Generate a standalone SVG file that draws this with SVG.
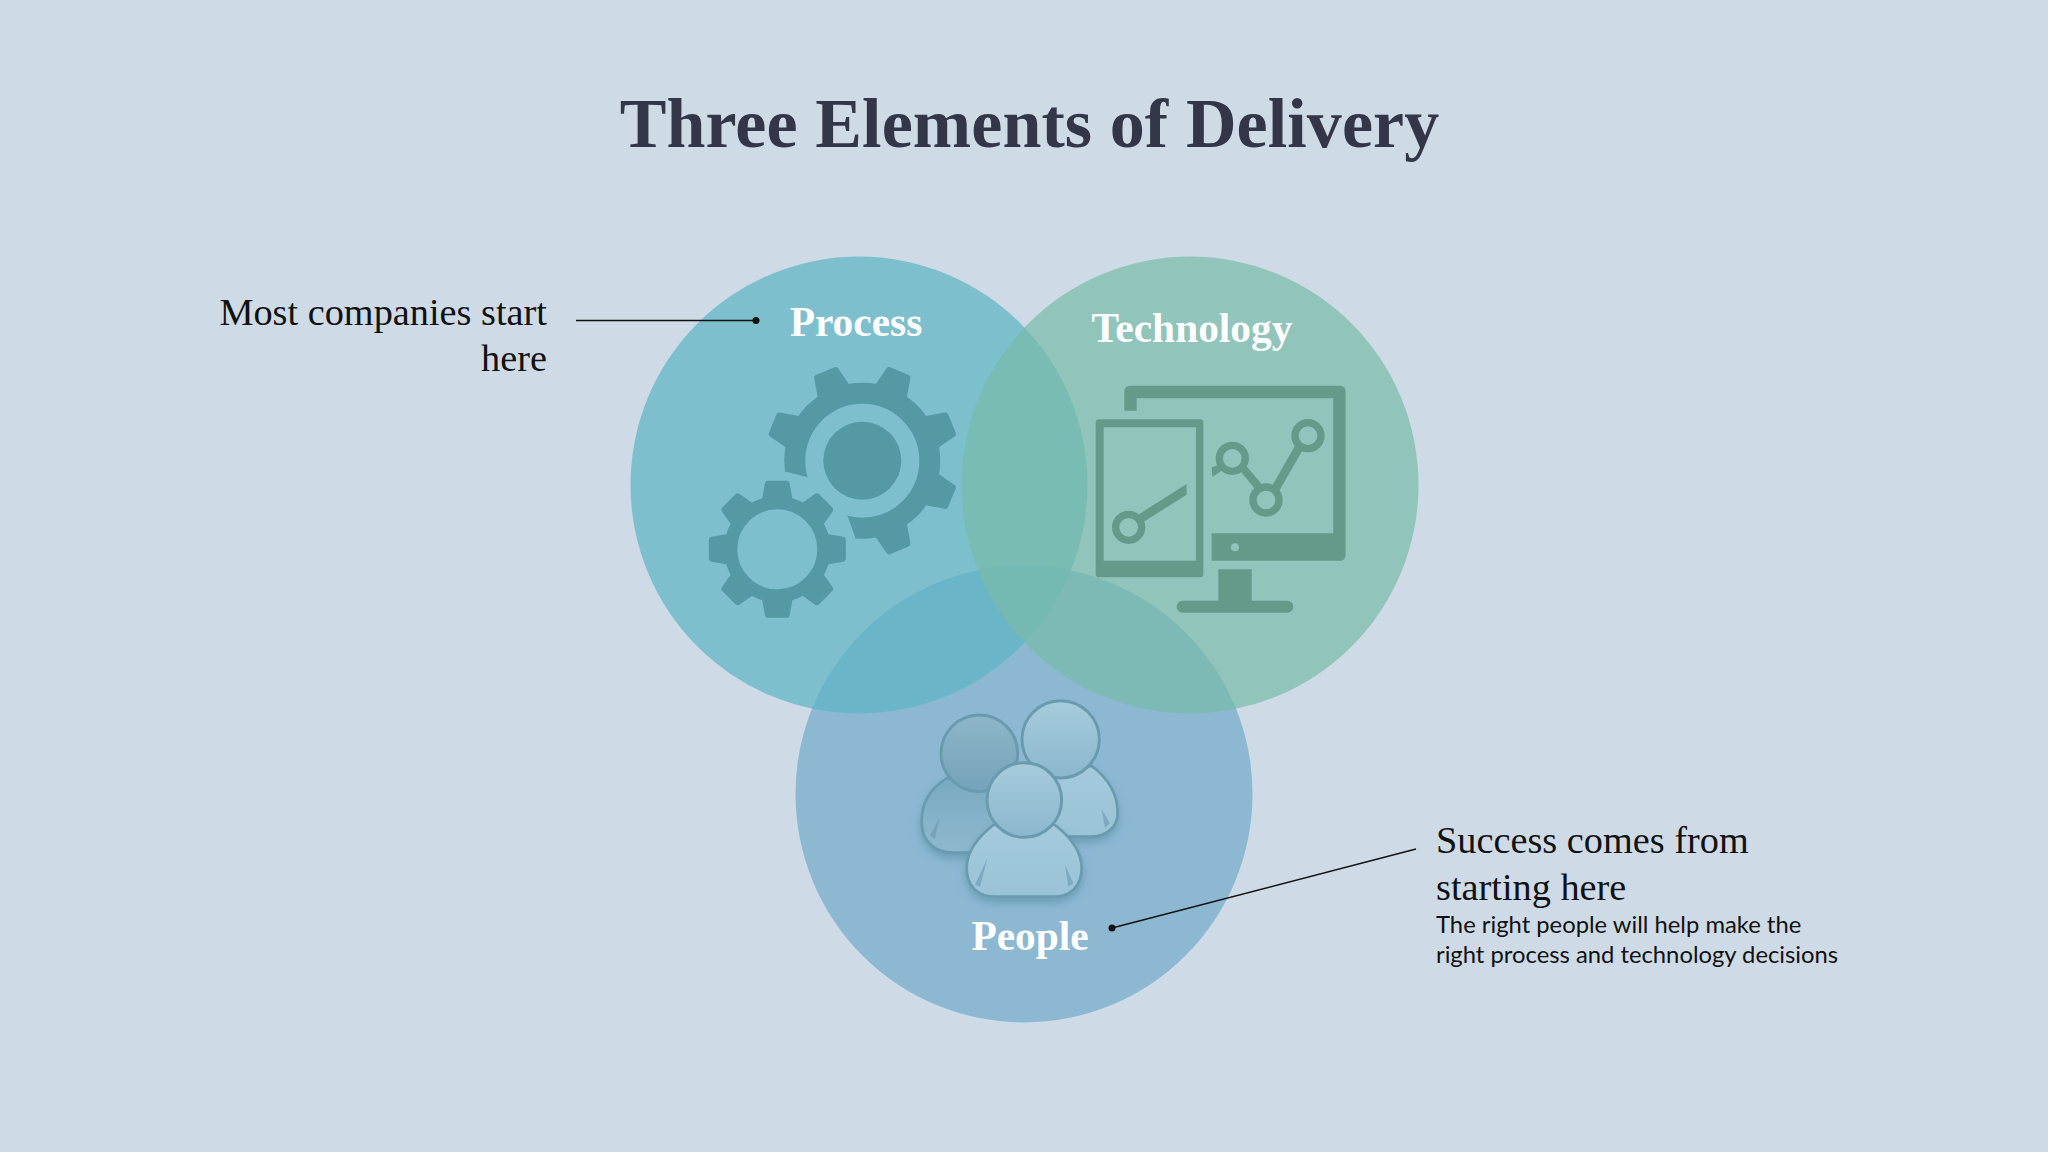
<svg xmlns="http://www.w3.org/2000/svg" xmlns:xlink="http://www.w3.org/1999/xlink" width="2048" height="1152" viewBox="0 0 2048 1152">
<style>
.serif{font-family:"Liberation Serif","Times New Roman",serif}
.side{font-size:38.3px;fill:#111}
.lab{font-size:41.4px;font-weight:bold;fill:#fff;text-anchor:middle}
.sub{font-family:Lato,"Noto Sans",sans-serif;font-size:23.8px;fill:#111}
.gear{fill:#5499A4}
.tech{fill:#65998A}
.ring{fill:none;stroke:#65998A;stroke-width:22}
.conn{stroke:#111;stroke-width:1.5;fill:none}
.pbody{stroke:#6A9AAE;stroke-width:8}
.phead{stroke:#6A9AAE;stroke-width:9}
</style>
<defs>
<path id="t1" d="M-15,-70L-10,-94L10,-94L15,-70Z" stroke="#5499A4" stroke-width="6" stroke-linejoin="round"/>
<path id="t2" d="M-12,-48L-9,-65L9,-65L12,-48Z" stroke="#5499A4" stroke-width="7" stroke-linejoin="round"/>
<mask id="cut" maskUnits="userSpaceOnUse" x="700" y="340" width="300" height="300">
<rect x="700" y="340" width="300" height="300" fill="#fff"/>
<polygon points="740,466 787,472 807,477 848,517 855,537 862,580 740,580" fill="#000"/>
</mask>
<linearGradient id="g1" x1="0" y1="0" x2="0" y2="1"><stop offset="0" stop-color="#A7CBDC"/><stop offset="1" stop-color="#8AB7CD"/></linearGradient>
<linearGradient id="g2" x1="0" y1="0" x2="0" y2="1"><stop offset="0" stop-color="#8DB6C9"/><stop offset="1" stop-color="#74A3B9"/></linearGradient>
<linearGradient id="b1" x1="0" y1="0" x2="0" y2="1"><stop offset="0" stop-color="#A4CADC"/><stop offset="1" stop-color="#99C3D7"/></linearGradient>
<linearGradient id="b2" x1="0" y1="0" x2="0" y2="1"><stop offset="0" stop-color="#7AAAC0"/><stop offset="1" stop-color="#8DB9CE"/></linearGradient>
<filter id="sh" x="-20%" y="-20%" width="140%" height="140%"><feDropShadow dx="0" dy="14" stdDeviation="12" flood-color="#5F91A8" flood-opacity=".7"/></filter>
</defs>
<rect id="background" width="2048" height="1152" fill="#CEDBE7"/>
<text id="title" class="serif" x="1029.5" y="147" font-size="70" font-weight="bold" fill="#333647" text-anchor="middle" letter-spacing=".1">Three Elements of Delivery</text>
<g id="people-circle"><circle cx="1024" cy="794" r="228.5" fill="#71AAC9" fill-opacity=".7"/></g>
<g id="process-circle"><circle cx="859" cy="485" r="228.5" fill="#5CB3C3" fill-opacity=".7"/></g>
<g id="technology-circle"><circle cx="1190" cy="485" r="228.5" fill="#77BAA8" fill-opacity=".7"/></g>
<g id="process-icon">
<g mask="url(#cut)" class="gear">
<circle cx="862.3" cy="460.7" r="67.5" fill="none" stroke="#5499A4" stroke-width="21"/>
<g transform="translate(862.3 460.7)">
<use xlink:href="#t1" href="#t1" transform="rotate(22.5)"/><use xlink:href="#t1" href="#t1" transform="rotate(67.5)"/><use xlink:href="#t1" href="#t1" transform="rotate(112.5)"/><use xlink:href="#t1" href="#t1" transform="rotate(157.5)"/><use xlink:href="#t1" href="#t1" transform="rotate(202.5)"/><use xlink:href="#t1" href="#t1" transform="rotate(247.5)"/><use xlink:href="#t1" href="#t1" transform="rotate(292.5)"/><use xlink:href="#t1" href="#t1" transform="rotate(337.5)"/>
</g>
</g>
<circle class="gear" cx="862.3" cy="460.7" r="39"/>
<g class="gear" transform="translate(777.3 549.3)">
<circle r="46.5" fill="none" stroke="#5499A4" stroke-width="13"/>
<use xlink:href="#t2" href="#t2"/><use xlink:href="#t2" href="#t2" transform="rotate(45)"/><use xlink:href="#t2" href="#t2" transform="rotate(90)"/><use xlink:href="#t2" href="#t2" transform="rotate(135)"/><use xlink:href="#t2" href="#t2" transform="rotate(180)"/><use xlink:href="#t2" href="#t2" transform="rotate(225)"/><use xlink:href="#t2" href="#t2" transform="rotate(270)"/><use xlink:href="#t2" href="#t2" transform="rotate(315)"/>
</g>
</g>
<g id="technology-icon" transform="translate(1070 370) scale(.3333)">
<path class="tech" d="M163,122V65Q163,47 181,47H809Q827,47 827,65V554Q827,572 809,572H425V490H790V85H200V122Z"/>
<circle cx="495" cy="532" r="12" fill="#91C4BB"/>
<rect class="tech" x="445" y="598" width="100" height="100"/>
<rect class="tech" x="320" y="692" width="350" height="36" rx="18"/>
<path class="tech" fill-rule="evenodd" d="M87,148H390Q400,148 400,158V612Q400,622 390,622H87Q77,622 77,612V158Q77,148 87,148ZM101,172V572H378V172Z"/>
<circle class="ring" cx="176" cy="472" r="39"/>
<path class="tech" d="M208,432L350,342V374L220,456Z"/>
<circle class="ring" cx="487" cy="265" r="39"/>
<circle class="ring" cx="588" cy="390" r="39"/>
<circle class="ring" cx="714" cy="197" r="39"/>
<path class="tech" d="M425,292L447,284L458,300L427,321Z"/>
<path class="tech" d="M508,300L526,284L578,346L558,360ZM604,352L626,366L698,240L676,226Z"/>
</g>
<g id="people-icon" transform="translate(900 680) scale(.3333)">
<g filter="url(#sh)">
<path class="pbody" fill="url(#b2)" d="M140,295C90,325 65,370 65,425C65,480 100,518 160,518H330V330Z"/>
<path class="pbody" fill="url(#b1)" d="M575,258C625,295 653,345 653,400C653,440 620,470 570,470H420V280Z"/>
</g>
<path d="M90,466L120,412L104,478Z" fill="#6E9DB2" opacity=".7"/>
<path d="M630,430L605,388L615,445Z" fill="#7EAABF"/>
<circle class="phead" cx="238" cy="220" r="115" fill="url(#g2)"/>
<circle class="phead" cx="482" cy="178" r="116" fill="url(#g1)"/>
<path class="pbody" filter="url(#sh)" fill="url(#b1)" d="M280,435C235,470 200,510 200,565C200,620 235,650 285,650H460C510,650 545,620 545,565C545,510 510,470 465,435Z"/>
<path d="M225,615L262,535L240,620Z" fill="#7EAABF"/>
<path d="M520,610L495,555L505,620Z" fill="#7EAABF"/>
<circle class="phead" cx="373" cy="360" r="112" fill="url(#g1)"/>
</g>
<g id="connectors">
<path class="conn" d="M576,320.5H756"/>
<circle cx="756" cy="320.5" r="3.5" fill="#111"/>
<path class="conn" d="M1416,849L1112,928"/>
<circle cx="1112" cy="928" r="3.5" fill="#111"/>
</g>
<g id="process-label"><text class="serif lab" x="856" y="336">Process</text></g>
<g id="technology-label"><text class="serif lab" x="1192" y="342">Technology</text></g>
<g id="people-label"><text class="serif lab" x="1030" y="950">People</text></g>
<g id="note-left" class="serif side" text-anchor="end"><text x="547" y="324.5">Most companies start</text><text x="547" y="370.5">here</text></g>
<g id="note-right"><text class="serif side" x="1436" y="853">Success comes from</text><text class="serif side" x="1436" y="899.5">starting here</text><text class="sub" x="1436" y="933">The right people will help make the</text><text class="sub" x="1436" y="963">right process and technology decisions</text></g>
</svg>
